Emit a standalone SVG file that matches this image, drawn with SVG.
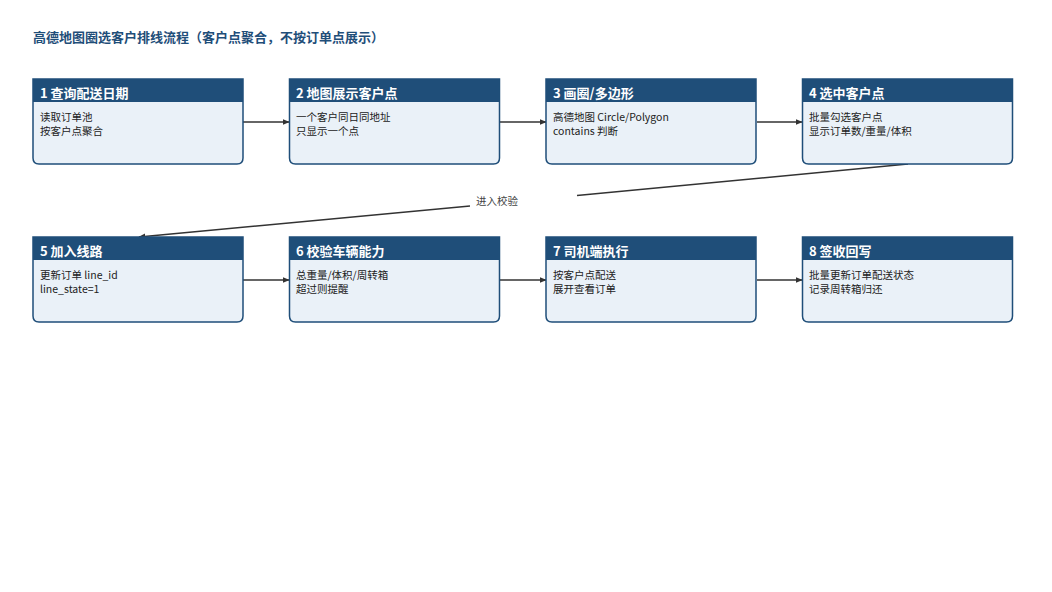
<svg xmlns="http://www.w3.org/2000/svg" width="1052" height="592" viewBox="0 0 1052 592">
<defs>
<style>
text{font-family:"Noto Sans CJK SC","Noto Sans",sans-serif}
.title{font-size:13px;font-weight:bold;fill:#1f4e79}
.box{fill:#eaf1f8;stroke:#1f4e79;stroke-width:1.5}
.hdr{fill:#1f4e79}
.ht{font-size:13px;font-weight:bold;fill:#ffffff}
.bt{font-size:10.5px;fill:#222222}
.conn{stroke:#333333;stroke-width:1.5;fill:none}
.lbl{font-size:10.5px;fill:#444444}
</style>
<marker id="arr" viewBox="0 0 10 10" refX="9" refY="5" markerWidth="7" markerHeight="7" orient="auto" markerUnits="userSpaceOnUse">
<path d="M0,1 L10,5 L0,9 z" fill="#333333"/>
</marker>
</defs>
<rect width="1052" height="592" fill="#ffffff"/>
<text class="title" x="33" y="42">高德地图圈选客户排线流程（客户点聚合，不按订单点展示）</text>

<g id="connectors">
<line class="conn" x1="243" y1="122" x2="289" y2="122" marker-end="url(#arr)"/>
<line class="conn" x1="500" y1="122" x2="546" y2="122" marker-end="url(#arr)"/>
<line class="conn" x1="757" y1="122" x2="802" y2="122" marker-end="url(#arr)"/>
<line class="conn" x1="908" y1="164" x2="577" y2="195.5"/>
<line class="conn" x1="470" y1="206" x2="139" y2="237" marker-end="url(#arr)"/>
<text class="lbl" x="497" y="205" text-anchor="middle">进入校验</text>
<line class="conn" x1="243" y1="280" x2="289" y2="280" marker-end="url(#arr)"/>
<line class="conn" x1="500" y1="280" x2="546" y2="280" marker-end="url(#arr)"/>
<line class="conn" x1="757" y1="280" x2="802" y2="280" marker-end="url(#arr)"/>
</g>

<g id="n1">
<path class="box" d="M33,79 H243 V158 Q243,164 237,164 H39 Q33,164 33,158 Z"/>
<rect class="hdr" x="33" y="79" width="210" height="23"/>
<text class="ht" x="40" y="98">1 查询配送日期</text>
<text class="bt" x="40" y="121">读取订单池</text>
<text class="bt" x="40" y="135">按客户点聚合</text>
</g>
<g id="n2">
<path class="box" d="M289.5,79 H499.5 V158 Q499.5,164 493.5,164 H295.5 Q289.5,164 289.5,158 Z"/>
<rect class="hdr" x="289.5" y="79" width="210" height="23"/>
<text class="ht" x="296" y="98">2 地图展示客户点</text>
<text class="bt" x="296" y="121">一个客户同日同地址</text>
<text class="bt" x="296" y="135">只显示一个点</text>
</g>
<g id="n3">
<path class="box" d="M546,79 H756 V158 Q756,164 750,164 H552 Q546,164 546,158 Z"/>
<rect class="hdr" x="546" y="79" width="210" height="23"/>
<text class="ht" x="553" y="98">3 画圈/多边形</text>
<text class="bt" x="553" y="121">高德地图 Circle/Polygon</text>
<text class="bt" x="553" y="135">contains 判断</text>
</g>
<g id="n4">
<path class="box" d="M802.5,79 H1012.5 V158 Q1012.5,164 1006.5,164 H808.5 Q802.5,164 802.5,158 Z"/>
<rect class="hdr" x="802.5" y="79" width="210" height="23"/>
<text class="ht" x="809" y="98">4 选中客户点</text>
<text class="bt" x="809" y="121">批量勾选客户点</text>
<text class="bt" x="809" y="135">显示订单数/重量/体积</text>
</g>

<g id="n5">
<path class="box" d="M33,237 H243 V316 Q243,322 237,322 H39 Q33,322 33,316 Z"/>
<rect class="hdr" x="33" y="237" width="210" height="23"/>
<text class="ht" x="40" y="256">5 加入线路</text>
<text class="bt" x="40" y="279">更新订单 line_id</text>
<text class="bt" x="40" y="293">line_state=1</text>
</g>
<g id="n6">
<path class="box" d="M289.5,237 H499.5 V316 Q499.5,322 493.5,322 H295.5 Q289.5,322 289.5,316 Z"/>
<rect class="hdr" x="289.5" y="237" width="210" height="23"/>
<text class="ht" x="296" y="256">6 校验车辆能力</text>
<text class="bt" x="296" y="279">总重量/体积/周转箱</text>
<text class="bt" x="296" y="293">超过则提醒</text>
</g>
<g id="n7">
<path class="box" d="M546,237 H756 V316 Q756,322 750,322 H552 Q546,322 546,316 Z"/>
<rect class="hdr" x="546" y="237" width="210" height="23"/>
<text class="ht" x="553" y="256">7 司机端执行</text>
<text class="bt" x="553" y="279">按客户点配送</text>
<text class="bt" x="553" y="293">展开查看订单</text>
</g>
<g id="n8">
<path class="box" d="M802.5,237 H1012.5 V316 Q1012.5,322 1006.5,322 H808.5 Q802.5,322 802.5,316 Z"/>
<rect class="hdr" x="802.5" y="237" width="210" height="23"/>
<text class="ht" x="809" y="256">8 签收回写</text>
<text class="bt" x="809" y="279">批量更新订单配送状态</text>
<text class="bt" x="809" y="293">记录周转箱归还</text>
</g>
</svg>
